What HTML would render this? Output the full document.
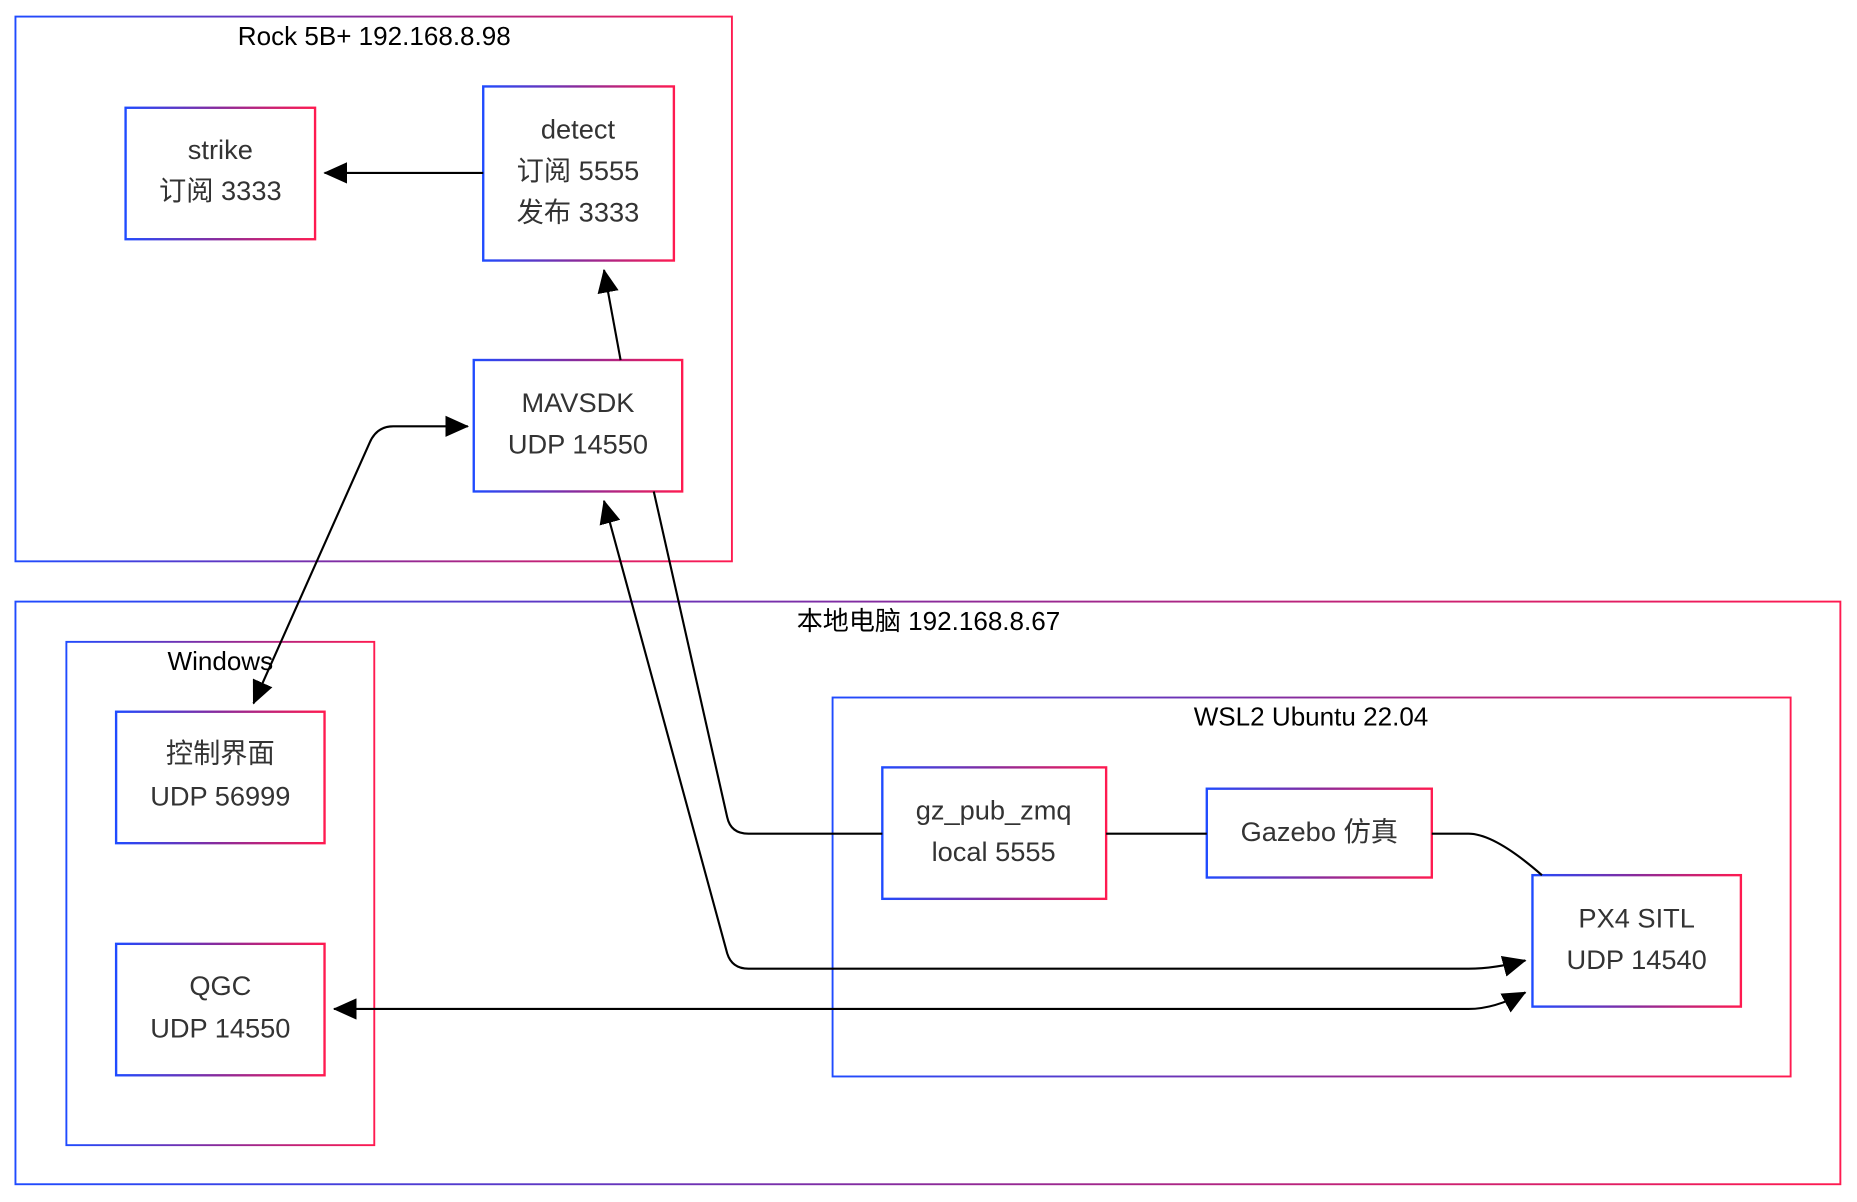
<!DOCTYPE html>
<html><head><meta charset="utf-8"><style>
html,body{margin:0;padding:0;background:#fff;}
svg{display:block;}
text{font-family:"Liberation Sans","Noto Sans CJK SC",sans-serif;text-anchor:middle;dominant-baseline:middle;}
.n{fill:#333;font-size:23px;}
.t{fill:#000;font-size:22px;}
.b{fill:#fff;stroke:url(#g);stroke-width:2;}
.c{fill:none;stroke:url(#g);stroke-width:1.6;}
.e{fill:none;stroke:#000;stroke-width:1.8;}
</style></head><body>
<svg width="1857" height="1202" viewBox="0 0 1568 1015" xmlns="http://www.w3.org/2000/svg">
<defs>
<linearGradient id="g" x1="0" y1="0" x2="1" y2="0"><stop offset="0" stop-color="#1f4bff"/><stop offset="0.5" stop-color="#8a2a9a"/><stop offset="1" stop-color="#ff1a50"/></linearGradient>
<marker id="a" markerWidth="20" markerHeight="18" refX="19" refY="9" orient="auto" markerUnits="userSpaceOnUse"><path d="M0,0 L20,9 L0,18 z" fill="#000"/></marker>
<marker id="s" markerWidth="20" markerHeight="18" refX="1" refY="9" orient="auto" markerUnits="userSpaceOnUse"><path d="M20,0 L0,9 L20,18 z" fill="#000"/></marker>
</defs>
<rect class="c" x="13" y="14" width="605" height="460"/>
<text class="t" x="316" y="32">Rock 5B+ 192.168.8.98</text>
<rect class="c" x="13" y="508" width="1541" height="492"/>
<text class="t" x="784" y="526">本地电脑 192.168.8.67</text>
<rect class="c" x="56" y="542" width="260" height="425"/>
<text class="t" x="186" y="560">Windows</text>
<rect class="c" x="703" y="589" width="809" height="320"/>
<text class="t" x="1107" y="607">WSL2 Ubuntu 22.04</text>

<rect class="b" x="106" y="91" width="160" height="111"/>
<text class="n" x="186" y="128">strike</text><text class="n" x="186" y="163">订阅 3333</text>
<rect class="b" x="408" y="73" width="161" height="147"/>
<text class="n" x="488" y="111">detect</text><text class="n" x="488" y="146">订阅 5555</text><text class="n" x="488" y="181">发布 3333</text>
<rect class="b" x="400" y="304" width="176" height="111"/>
<text class="n" x="488" y="342">MAVSDK</text><text class="n" x="488" y="377">UDP 14550</text>
<rect class="b" x="98" y="601" width="176" height="111"/>
<text class="n" x="186" y="638">控制界面</text><text class="n" x="186" y="674">UDP 56999</text>
<rect class="b" x="98" y="797" width="176" height="111"/>
<text class="n" x="186" y="834">QGC</text><text class="n" x="186" y="870">UDP 14550</text>
<rect class="b" x="745" y="648" width="189" height="111"/>
<text class="n" x="839" y="686">gz_pub_zmq</text><text class="n" x="839" y="721">local 5555</text>
<rect class="b" x="1019" y="666" width="190" height="75"/>
<text class="n" x="1114" y="704">Gazebo 仿真</text>
<rect class="b" x="1294" y="739" width="176" height="111"/>
<text class="n" x="1382" y="777">PX4 SITL</text><text class="n" x="1382" y="812">UDP 14540</text>

<path class="e" d="M408,146 L274,146" marker-end="url(#a)"/>
<path class="e" d="M524,304 L510,228" marker-end="url(#a)"/>
<path class="e" d="M214,594 L312,374 Q318,360 332,360 L395,360" marker-start="url(#s)" marker-end="url(#a)"/>
<path class="e" d="M552,415 L614,690 Q617,704 632,704 L745,704"/>
<path class="e" d="M934,704 L1019,704"/>
<path class="e" d="M1209,704 L1240,704 Q1262,704 1302,739"/>
<path class="e" d="M510,423 L614,805 Q618,818 632,818 L1240,818 Q1262,818 1288,811" marker-start="url(#s)" marker-end="url(#a)"/>
<path class="e" d="M282,852 L1240,852 Q1262,852 1288,838" marker-start="url(#s)" marker-end="url(#a)"/>
</svg>
</body></html>
